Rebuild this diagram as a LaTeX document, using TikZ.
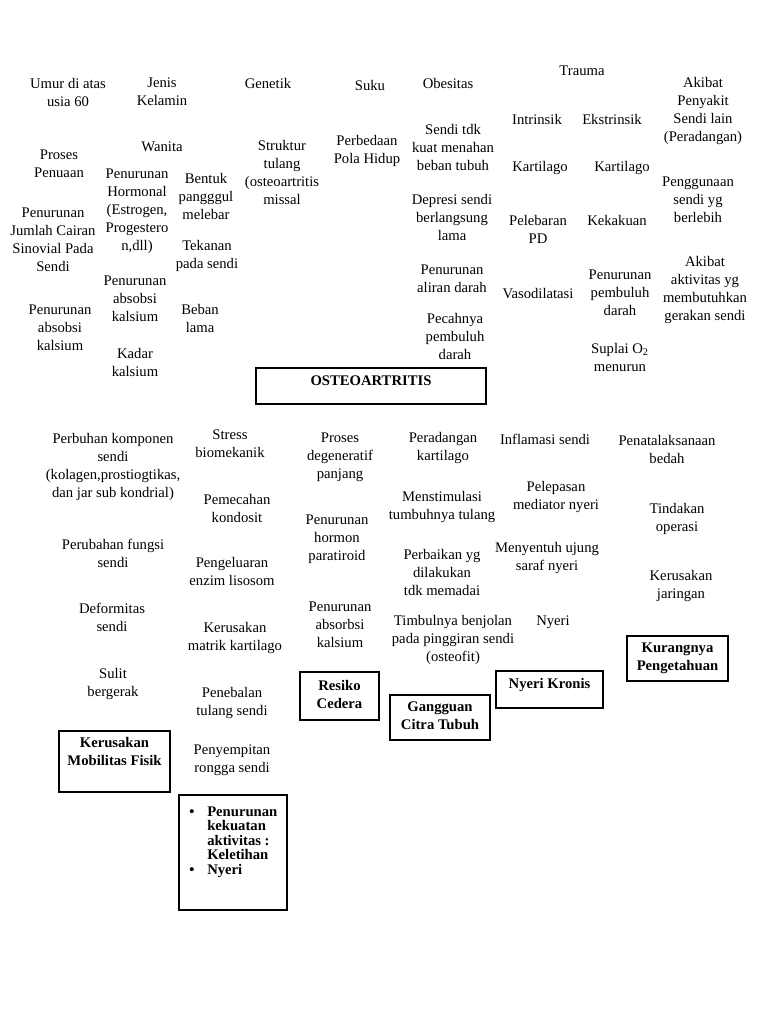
\documentclass[tikz,border=0pt]{standalone}
\usepackage{fontspec}
\setmainfont{Liberation Serif}
\begin{document}
\begin{tikzpicture}[x=0.75pt,y=-0.75pt,
  t/.style={align=center, inner sep=0pt, font=\fontsize{11}{13.5}\selectfont},
  bt/.style={align=center, inner sep=0pt, font=\fontsize{11}{13.5}\selectfont\bfseries},
  box/.style={draw, line width=0.9pt, inner sep=0pt},
]
\useasboundingbox[fill=white] (0,0) rectangle (768,1024);

% ---------- top half ----------
\node[t] (u60) at (68,92) {Umur di atas\\usia 60};
\node[t] (jk) at (162,92) {Jenis\\Kelamin};
\node[t] (gen) at (268,83) {Genetik};
\node[t] (suku) at (370,85) {Suku};
\node[t] (obe) at (448,83) {Obesitas};
\node[t] (trauma) at (582,71) {Trauma};
\node[t] (akibat1) at (703,111) {Akibat\\Penyakit\\Sendi lain\\(Peradangan)};

\node[t] (wanita) at (162,147) {Wanita};
\node[t] (proses) at (59,164) {Proses\\Penuaan};
\node[t] (hormonal) at (137,211.5) {Penurunan\\Hormonal\\(Estrogen,\\Progestero\\n,dll)};
\node[t] (bentuk) at (206,196.5) {Bentuk\\pangggul\\melebar};
\node[t] (tekanan) at (207,255.5) {Tekanan\\pada sendi};
\node[t] (beban) at (200,318.5) {Beban\\lama};
\node[t] (cairan) at (53,239.5) {Penurunan\\Jumlah Cairan\\Sinovial Pada\\Sendi};
\node[t] (absL) at (60,328) {Penurunan\\absobsi\\kalsium};
\node[t] (absM) at (135,298.5) {Penurunan\\absobsi\\kalsium};
\node[t] (kadar) at (135,362.5) {Kadar\\kalsium};

\node[t] (struktur) at (282,172) {Struktur\\tulang\\(osteoartritis\\missal};
\node[t] (pola) at (367,150.5) {Perbedaan\\Pola Hidup};
\node[t] (sendiTdk) at (453,147.5) {Sendi tdk\\kuat menahan\\beban tubuh};
\node[t] (depresi) at (452,217) {Depresi sendi\\berlangsung\\lama};
\node[t] (aliran) at (452,278.5) {Penurunan\\aliran darah};
\node[t] (pecah) at (455,336) {Pecahnya\\pembuluh\\darah};

\node[t] (intrinsik) at (537,119) {Intrinsik};
\node[t] (ekstrinsik) at (612,119) {Ekstrinsik};
\node[t] (kartL) at (540,168) {Kartilago};
\node[t] (kartR) at (622,168) {Kartilago};
\node[t] (penggunaan) at (698,199.5) {Penggunaan\\sendi yg\\berlebih};
\node[t] (pelebaran) at (538,229.5) {Pelebaran\\PD};
\node[t] (kekakuan) at (617,220) {Kekakuan};
\node[t] (vaso) at (538,294) {Vasodilatasi};
\node[t] (pembuluh) at (620,293) {Penurunan\\pembuluh\\darah};
\node[t] (akibat2) at (705,289.5) {Akibat\\aktivitas yg\\membutuhkan\\gerakan sendi};
\node[t] (suplai) at (620,357.5) {Suplai O\textsubscript{2}\\menurun};

\node[box, minimum width=172.5pt, minimum height=27pt] (oa) at (371,386) {};
\node[bt] (oaText) at (371,381) {OSTEOARTRITIS};

% ---------- bottom half ----------
\node[t] (perbuhan) at (113,467) {Perbuhan komponen\\sendi\\(kolagen,prostiogtikas,\\dan jar sub kondrial)};
\node[t] (stress) at (230,444) {Stress\\biomekanik};
\node[t] (pemecahan) at (237,508) {Pemecahan\\kondosit};
\node[t] (fungsi) at (113,553) {Perubahan fungsi\\sendi};
\node[t] (enzim) at (232,571) {Pengeluaran\\enzim lisosom};
\node[t] (deform) at (112,617) {Deformitas\\sendi};
\node[t] (matrik) at (235,638) {Kerusakan\\matrik kartilago};
\node[t] (sulit) at (113,683.5) {Sulit\\bergerak};
\node[t] (penebalan) at (232,703) {Penebalan\\tulang sendi};
\node[t] (penyempitan) at (232,760.5) {Penyempitan\\rongga sendi};

\node[box, minimum width=83.25pt, minimum height=45.75pt] (kmf) at (114.5,761.5) {};
\node[bt] (kmfText) at (114.5,751) {Kerusakan\\Mobilitas Fisik};

\node[box, minimum width=81pt, minimum height=86.25pt] (bul) at (233,852.5) {};
\node[anchor=north west, inner sep=0pt, align=left] (bulText) at (189,806)
  {\fontsize{11}{10.7}\selectfont\bfseries
   \begin{tabular}{@{}p{13.5pt}@{}l@{}}
   \textbullet & Penurunan\\
               & kekuatan\\
               & aktivitas :\\
               & Keletihan\\
   \textbullet & Nyeri
   \end{tabular}};

\node[t] (degeneratif) at (340,457) {Proses\\degeneratif\\panjang};
\node[t] (peradangan) at (443,448) {Peradangan\\kartilago};
\node[t] (menstimulasi) at (442,506.5) {Menstimulasi\\tumbuhnya tulang};
\node[t] (paratiroid) at (337,539.5) {Penurunan\\hormon\\paratiroid};
\node[t] (perbaikan) at (442,572.5) {Perbaikan yg\\dilakukan\\tdk memadai};
\node[t] (absB) at (340,624.5) {Penurunan\\absorbsi\\kalsium};
\node[t] (timbul) at (453,639.5) {Timbulnya benjolan\\pada pinggiran sendi\\(osteofit)};

\node[t] (inflamasi) at (545,439) {Inflamasi sendi};
\node[t] (penata) at (667,449) {Penatalaksanaan\\bedah};
\node[t] (pelepasan) at (556,496.5) {Pelepasan\\mediator nyeri};
\node[t] (tindakan) at (677,519) {Tindakan\\operasi};
\node[t] (menyentuh) at (547,558) {Menyentuh ujung\\saraf nyeri};
\node[t] (kerusakanJ) at (681,585.5) {Kerusakan\\jaringan};
\node[t] (nyeri) at (553,622) {Nyeri};

\node[box, minimum width=59.25pt, minimum height=36pt] (resiko) at (339.5,696) {};
\node[bt] (resikoText) at (339.5,694) {Resiko\\Cedera};

\node[box, minimum width=75pt, minimum height=33.75pt] (gangguan) at (440,717.5) {};
\node[bt] (gangguanText) at (440,716) {Gangguan\\Citra Tubuh};

\node[box, minimum width=80.25pt, minimum height=27.75pt] (nk) at (549.5,689.5) {};
\node[bt] (nkText) at (549.5,685) {Nyeri Kronis};

\node[box, minimum width=75.75pt, minimum height=33.75pt] (kurang) at (677.5,658.5) {};
\node[bt] (kurangText) at (677.5,658) {Kurangnya\\Pengetahuan};

\end{tikzpicture}
\end{document}
